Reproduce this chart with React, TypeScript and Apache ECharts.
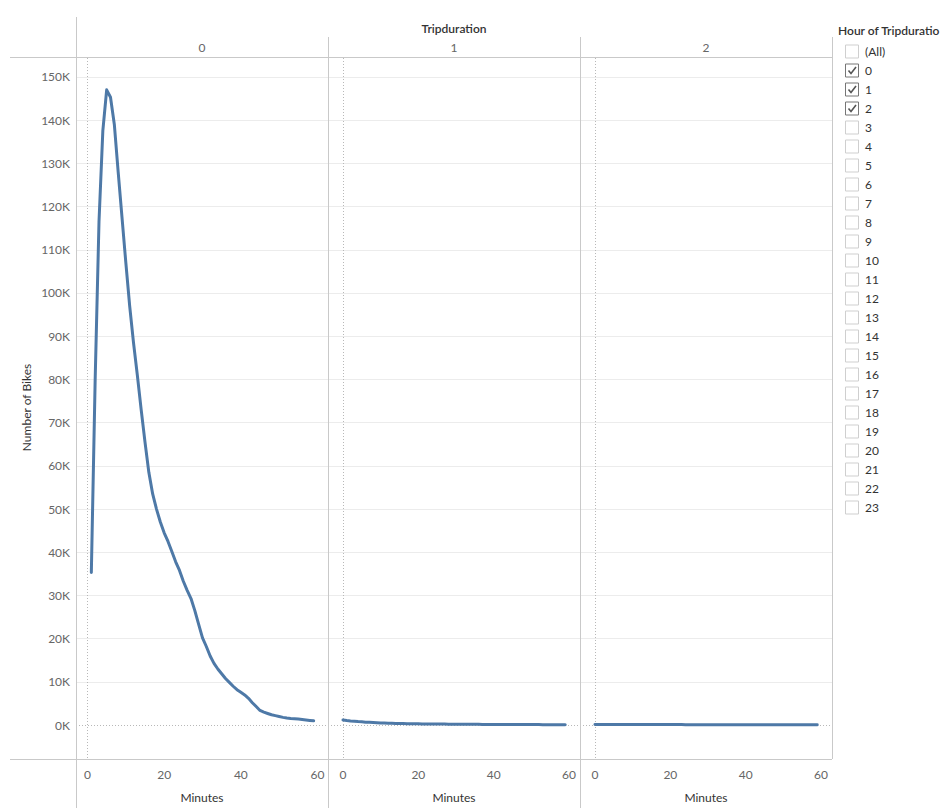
import React, { useEffect, useRef } from "react";
import * as echarts from "echarts";

// ---------- data ----------
const hourPanels = ["0", "1", "2"];

const minutes0 = Array.from({ length: 59 }, (_, i) => i + 1);
const bikes0 = [
  35300, 80000, 116500, 137500, 147000, 145300, 139000, 128000, 117500, 107000,
  97000, 88500, 81000, 73000, 65500, 58500, 53500, 50000, 47000, 44500,
  42500, 40200, 37800, 35800, 33300, 31200, 29300, 26500, 23300, 20200,
  18200, 16000, 14300, 13000, 11900, 10800, 9900, 9000, 8200, 7600,
  7000, 6200, 5200, 4300, 3400, 3000, 2700, 2400, 2200, 2000,
  1800, 1650, 1550, 1500, 1400, 1300, 1200, 1100, 1000,
];

const minutes1 = Array.from({ length: 60 }, (_, i) => i);
const bikes1 = [
  1200, 1080, 980, 900, 820, 760, 700, 650, 600, 560,
  520, 490, 460, 430, 410, 390, 370, 350, 335, 320,
  305, 295, 285, 275, 265, 255, 248, 240, 232, 225,
  218, 212, 206, 200, 195, 190, 185, 180, 175, 170,
  166, 162, 158, 154, 150, 146, 142, 139, 136, 133,
  130, 127, 124, 121, 118, 115, 112, 110, 108, 105,
];

const minutes2 = Array.from({ length: 60 }, (_, i) => i);
const bikes2 = [
  170, 165, 160, 158, 155, 150, 152, 148, 145, 146,
  142, 140, 138, 139, 135, 133, 134, 130, 128, 129,
  126, 125, 123, 124, 120, 119, 118, 117, 116, 114,
  115, 112, 111, 110, 109, 108, 108, 106, 105, 104,
  104, 102, 101, 100, 100, 99, 98, 97, 96, 96,
  95, 94, 93, 93, 92, 91, 91, 90, 89, 88,
];

const xTickLabels = [0, 20, 40, 60];
const yTickLabels = [0, 10000, 20000, 30000, 40000, 50000, 60000, 70000, 80000, 90000, 100000, 110000, 120000, 130000, 140000, 150000];
const yGridValues = [10000, 20000, 30000, 40000, 50000, 60000, 70000, 80000, 90000, 100000, 110000, 120000, 130000, 140000, 150000];

const legendTitle = "Hour of Tripduratio";
const legendItems = ["(All)", "0", "1", "2", "3", "4", "5", "6", "7", "8", "9", "10", "11", "12", "13", "14", "15", "16", "17", "18", "19", "20", "21", "22", "23"];
const legendChecked = ["0", "1", "2"];

// ---------- chart ----------
const FONT = "Lato, 'Noto Sans', sans-serif";
const LINE_COLOR = "#4e79a7";
const BORDER = "#c9c9c9";
const X_RANGES = [
  [-3.0, 62.74],
  [-3.98, 62.92],
  [-3.98, 62.92],
];
const Y_MIN = -7600;
const Y_MAX = 154600;
const GRID_LEFTS = [76, 328, 580];
const GRID_TOP = 57;
const GRID_W = 252;
const GRID_H = 702;

export default function App() {
  const ref = useRef<HTMLDivElement>(null);

  useEffect(() => {
    if (!ref.current) return;
    const chart = echarts.init(ref.current, undefined, { renderer: "svg" });

    const seriesData = [
      minutes0.map((m, i) => [m, bikes0[i]]),
      minutes1.map((m, i) => [m, bikes1[i]]),
      minutes2.map((m, i) => [m, bikes2[i]]),
    ];

    const graphics: any[] = [];
    const hline = (x1: number, x2: number, y: number) =>
      graphics.push({ type: "line", silent: true, z: 10, shape: { x1, y1: y, x2, y2: y }, style: { stroke: BORDER, lineWidth: 1 } });
    const vline = (x: number, y1: number, y2: number) =>
      graphics.push({ type: "line", silent: true, z: 10, shape: { x1: x, y1, x2: x, y2 }, style: { stroke: BORDER, lineWidth: 1 } });

    hline(10, 832, 57.5);
    hline(10, 832, 759.5);
    vline(76.5, 17, 808);
    vline(328.5, 37, 808);
    vline(580.5, 37, 808);
    vline(832.5, 37, 759);

    graphics.push({
      type: "text", silent: true,
      x: 454, y: 28,
      style: { text: "Tripduration", fill: "#333", font: `600 12px ${FONT}`, textAlign: "center", textVerticalAlign: "middle" },
    });
    hourPanels.forEach((h, i) => {
      graphics.push({
        type: "text", silent: true,
        x: GRID_LEFTS[i] + GRID_W / 2, y: 47,
        style: { text: h, fill: "#666", font: `12px ${FONT}`, textAlign: "center", textVerticalAlign: "middle" },
      });
    });

    // legend
    graphics.push({
      type: "text", silent: true, x: 838, y: 30,
      style: { text: legendTitle, fill: "#333", font: `600 12px ${FONT}`, textAlign: "left", textVerticalAlign: "middle" },
    });
    legendItems.forEach((item, i) => {
      const cy = 51.5 + i * 19;
      const checked = legendChecked.includes(item);
      graphics.push({
        type: "rect", silent: true,
        shape: { x: 845.5, y: cy - 6.5, width: 13, height: 13 },
        style: { fill: "#fff", stroke: checked ? "#767676" : "#cfcfcf", lineWidth: 1 },
      });
      if (checked) {
        graphics.push({
          type: "polyline", silent: true,
          shape: { points: [[848.5, cy], [851, cy + 3], [856, cy - 3.5]] },
          style: { stroke: "#555", lineWidth: 1.6, fill: null },
        });
      }
      graphics.push({
        type: "text", silent: true, x: 865, y: cy,
        style: { text: item, fill: "#333", font: `12px ${FONT}`, textAlign: "left", textVerticalAlign: "middle" },
      });
    });

    const option: any = {
      animation: false,
      backgroundColor: "#fff",
      textStyle: { fontFamily: FONT },
      grid: GRID_LEFTS.map((l) => ({ left: l, top: GRID_TOP, width: GRID_W, height: GRID_H, containLabel: false })),
      xAxis: hourPanels.map((_, i) => ({
        type: "value",
        gridIndex: i,
        min: X_RANGES[i][0],
        max: X_RANGES[i][1],
        axisLine: { show: false },
        axisTick: { show: false },
        splitLine: { show: false },
        axisLabel: { customValues: xTickLabels, color: "#666", fontSize: 12, margin: 10, fontFamily: FONT },
        name: "Minutes",
        nameLocation: "middle",
        nameGap: 33,
        nameTextStyle: { color: "#333", fontSize: 12, fontFamily: FONT },
      })),
      yAxis: hourPanels.map((_, i) => ({
        type: "value",
        gridIndex: i,
        min: Y_MIN,
        max: Y_MAX,
        axisLine: { show: false },
        axisTick: { show: false, customValues: yGridValues },
        splitLine: { show: true, lineStyle: { color: "#ececec", width: 1 } },
        axisLabel: i === 0
          ? { customValues: yTickLabels, color: "#666", fontSize: 12, margin: 6, fontFamily: FONT, formatter: (v: number) => `${Math.round(v / 1000)}K` }
          : { show: false },
        name: i === 0 ? "Number of Bikes" : "",
        nameLocation: "middle",
        nameGap: 44,
        nameTextStyle: { color: "#333", fontSize: 12, fontFamily: FONT },
      })),
      series: seriesData.map((d, i) => ({
        type: "line",
        name: hourPanels[i],
        xAxisIndex: i,
        yAxisIndex: i,
        data: d,
        showSymbol: false,
        symbol: "none",
        silent: true,
        z: 3,
        lineStyle: { color: LINE_COLOR, width: 3, join: "round", cap: "round" },
        itemStyle: { color: LINE_COLOR },
        markLine: {
          silent: true,
          symbol: "none",
          z: 1,
          label: { show: false },
          lineStyle: { color: "#b8b8b8", width: 1, type: [1, 2] },
          data: [{ yAxis: 0 }, { xAxis: 0 }],
        },
      })),
      graphic: graphics,
    };

    chart.setOption(option);
    return () => chart.dispose();
  }, []);

  return <div ref={ref} style={{ position: "fixed", left: 0, top: 0, width: 948, height: 808 }} />;
}
